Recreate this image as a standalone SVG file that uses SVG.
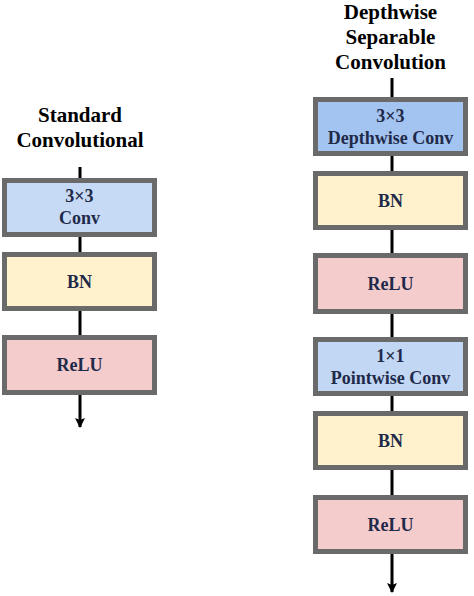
<svg xmlns="http://www.w3.org/2000/svg" width="474" height="596" viewBox="0 0 474 596">
<style>
.box{stroke:#6a6a6a;stroke-width:5}
.conv{fill:#c7daf5}
.dw{fill:#a3c3f0}
.pw{fill:#c2d7f3}
.bn{fill:#fff2cc}
.relu{fill:#f4cccc}
.lbl{font-family:"Liberation Serif","Times New Roman",serif;font-weight:bold;font-size:18px;fill:#1f2a4a;text-anchor:middle}
.title{font-family:"Liberation Serif","Times New Roman",serif;font-weight:bold;font-size:21px;fill:#000;text-anchor:middle}
.ln{stroke:#000;stroke-width:3;fill:none}
</style>
<defs>
<marker id="ah" markerWidth="10" markerHeight="10" viewBox="0 0 10 10" refX="9" refY="5" orient="auto" markerUnits="userSpaceOnUse">
<path d="M0,0 L10,5 L0,10 L2,5 Z" fill="#000"/>
</marker>
</defs>
<rect width="474" height="596" fill="#fff"/>
<g id="titles">
<text class="title" x="80" y="122">Standard</text>
<text class="title" x="80" y="147">Convolutional</text>
<text class="title" x="390.5" y="19">Depthwise</text>
<text class="title" x="390.5" y="44">Separable</text>
<text class="title" x="390.5" y="69">Convolution</text>
</g>
<g id="connectors">
<line class="ln" x1="80" y1="167" x2="80" y2="180"/>
<line class="ln" x1="80" y1="236" x2="80" y2="254"/>
<line class="ln" x1="80" y1="310" x2="80" y2="337"/>
<line class="ln" x1="80" y1="393" x2="80" y2="427" marker-end="url(#ah)"/>
<line class="ln" x1="392" y1="78" x2="392" y2="99"/>
<line class="ln" x1="392" y1="154" x2="392" y2="173"/>
<line class="ln" x1="392" y1="228" x2="392" y2="255"/>
<line class="ln" x1="392" y1="312" x2="392" y2="339"/>
<line class="ln" x1="392" y1="394" x2="392" y2="413"/>
<line class="ln" x1="392" y1="468" x2="392" y2="497"/>
<line class="ln" x1="392" y1="552" x2="392" y2="592" marker-end="url(#ah)"/>
</g>
<g id="std-conv">
<rect class="box conv" x="4.5" y="180.5" width="150" height="54"/>
<text class="lbl" x="79.5" y="202">3×3</text>
<text class="lbl" x="79.5" y="224">Conv</text>
</g>
<g id="std-bn">
<rect class="box bn" x="4.5" y="254.5" width="150" height="54"/>
<text class="lbl" x="79.5" y="288">BN</text>
</g>
<g id="std-relu">
<rect class="box relu" x="4.5" y="337.5" width="150" height="55"/>
<text class="lbl" x="79.5" y="371">ReLU</text>
</g>
<g id="dw-conv">
<rect class="box dw" x="315.5" y="99.5" width="150" height="54"/>
<text class="lbl" x="390.5" y="122">3×3</text>
<text class="lbl" x="390.5" y="144">Depthwise Conv</text>
</g>
<g id="dw-bn">
<rect class="box bn" x="315.5" y="173.5" width="150" height="54"/>
<text class="lbl" x="390.5" y="207">BN</text>
</g>
<g id="dw-relu">
<rect class="box relu" x="315.5" y="255.5" width="150" height="56"/>
<text class="lbl" x="390.5" y="290">ReLU</text>
</g>
<g id="pw-conv">
<rect class="box pw" x="315.5" y="339.5" width="150" height="54"/>
<text class="lbl" x="390.5" y="362">1×1</text>
<text class="lbl" x="390.5" y="384">Pointwise Conv</text>
</g>
<g id="pw-bn">
<rect class="box bn" x="315.5" y="413.5" width="150" height="54"/>
<text class="lbl" x="390.5" y="447">BN</text>
</g>
<g id="pw-relu">
<rect class="box relu" x="315.5" y="497.5" width="150" height="54"/>
<text class="lbl" x="390.5" y="531">ReLU</text>
</g>
</svg>
